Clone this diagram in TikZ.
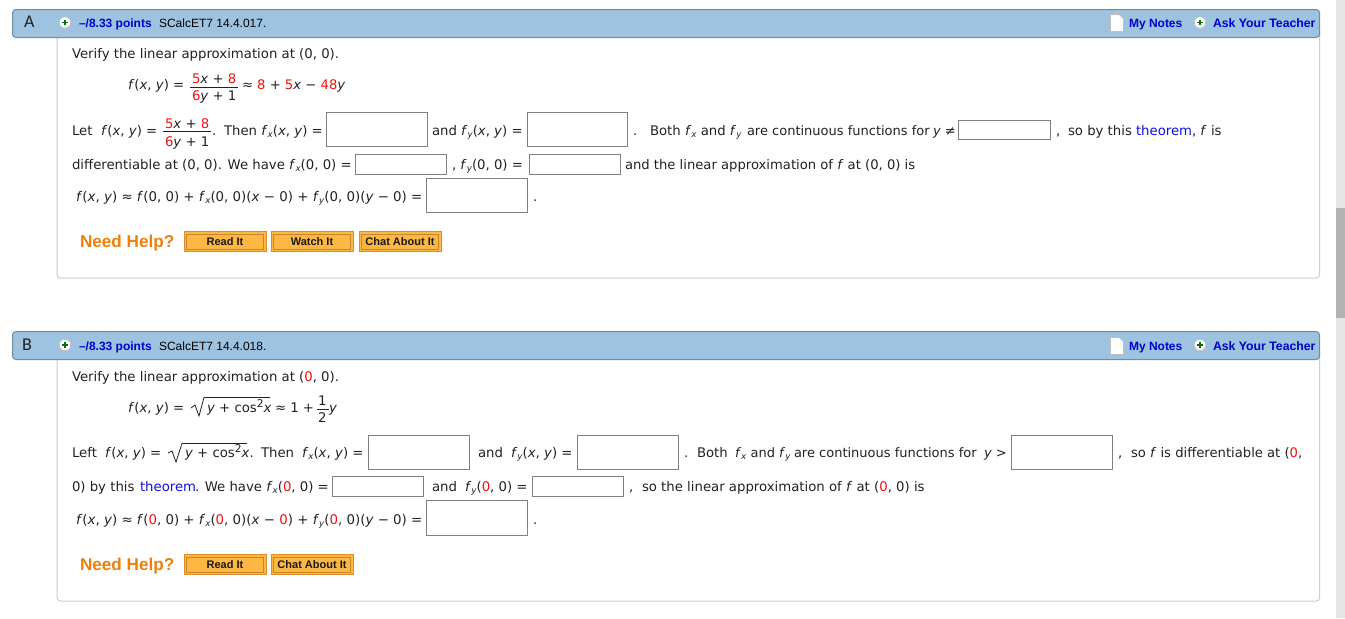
\documentclass[tikz,border=0pt]{standalone}
\usepackage{fontspec}
\setmainfont{DejaVu Sans}
\newfontfamily\hv{Liberation Sans}
\newfontfamily\cb{Carlito}
\definecolor{hdr}{HTML}{9DC3E0}
\definecolor{hdredge}{HTML}{6F8CA3}
\definecolor{lnk}{HTML}{0000CC}
\definecolor{thm}{HTML}{1111DD}
\definecolor{red0}{HTML}{F01010}
\definecolor{txt0}{HTML}{222222}
\definecolor{org}{HTML}{EE7F0A}
\definecolor{panel}{HTML}{CCCCCC}
\definecolor{boxe}{HTML}{808080}
\definecolor{btnf}{HTML}{FDB843}
\definecolor{btne}{HTML}{E08A2A}
\definecolor{btni}{HTML}{C8862A}
\newcommand\rd[1]{\textcolor{red0}{#1}}
\newcommand\ix{\textit{x}}
\newcommand\iy{\textit{y}}
\newcommand\subq[1]{\raisebox{-.3ex}{\fontsize{6.5pt}{8pt}\selectfont\textit{#1}}}
\newcommand\fX{\textit{f}\subq{x}}
\newcommand\fY{\textit{f}\subq{y}}
\newcommand\fxy{\textit{f}(\textit{x}, \textit{y})}
\newcommand\tx[5][]{\node[txt,#1] (#2) at (#3,#4) {#5};}
\newcommand\ansb[5]{\node[ansbox,minimum width=#4*.75pt,minimum height=#5*.75pt] (#1) at (#2+#4/2,#3+#5/2) {};}
\newcommand\btn[5]{\node[btnbox,minimum width=#4*.75pt] (#1) at (#2+#4/2,#3+10) {#5};
  \draw[btnin] ([shift={(3.2*.75pt,-3.2*.75pt)}]#1.north west) rectangle ([shift={(-3.2*.75pt,3.2*.75pt)}]#1.south east);}
\newcommand\plusic[3]{\node[plusbg] (#1) at (#2,#3) {};
  \draw[pluslin] ([xshift=-2.2pt]#1.center) -- ([xshift=2.2pt]#1.center);
  \draw[pluslin] ([yshift=-2.2pt]#1.center) -- ([yshift=2.2pt]#1.center);}
\tikzset{
  txt/.style={anchor=base west,inner sep=0pt,outer sep=0pt,text=txt0,font=\fontsize{9.95pt}{12pt}\selectfont},
  tight/.style={font=\fontsize{9.75pt}{12pt}\selectfont},
  semi/.style={font=\fontsize{9.87pt}{12pt}\selectfont},
  wide/.style={font=\fontsize{10.02pt}{12pt}\selectfont},
  hd/.style={font=\hv\fontsize{9pt}{11pt}\selectfont\bfseries,text=lnk},
  hda/.style={font=\hv\fontsize{9.2pt}{11pt}\selectfont\bfseries,text=lnk},
  hdk/.style={font=\hv\fontsize{9pt}{11pt}\selectfont,text=black},
  lbl/.style={font=\cb\fontsize{13.5pt}{15pt}\selectfont},
  ansbox/.style={draw=boxe,line width=.75pt,fill=white,inner sep=0pt},
  btnbox/.style={draw=btne,fill=btnf,line width=.75pt,inner sep=0pt,minimum height=15pt,text=black!90,font=\hv\fontsize{8.25pt}{10pt}\selectfont\bfseries},
  btnin/.style={draw=btni,line width=.4pt},
  plusbg/.style={circle,draw=black!25,fill=white,inner sep=0pt,minimum size=8.6pt,line width=.5pt},
  pluslin/.style={draw=green!45!black,line width=1pt},
  help/.style={font=\hv\fontsize{12.85pt}{16pt}\selectfont\bfseries,text=org},
  hbar/.style={draw=hdredge,fill=hdr,line width=.75pt,rounded corners=2.5pt},
  body/.style={draw=panel,line width=.75pt,rounded corners=2.5pt},
  rule/.style={draw=txt0,line width=.6pt},
  noteic/.style={draw=black!25,fill=white,line width=.5pt},
}
\begin{document}
\begin{tikzpicture}[x=.75pt,y=-.75pt]
\useasboundingbox (0,0) rectangle (1345,618);
\fill[white] (0,0) rectangle (1345,618);
% scrollbar
\fill[black!10] (1336,0) rectangle (1345,618);
\fill[black!30] (1336,208) rectangle (1345,318);
%%%%%% Panel A
\draw[body] (57,30) -- (57,278) -- (1319.5,278) -- (1319.5,30);
\draw[hbar] (12.5,9.5) rectangle (1319.5,37.5);
\node[txt,lbl] (la) at (24,27) {A};
\plusic{pa}{65}{22.5}
\tx[hd]{pta}{79}{27}{–/8.33 points}
\tx[hdk]{ida}{159}{27}{SCalcET7 14.4.017.}
\filldraw[noteic] (1110.5,14.5) -- (1119,14.5) -- (1123.5,19) -- (1123.5,31.5) -- (1110.5,31.5) -- cycle;
\tx[hd]{mna}{1129}{27}{My Notes}
\plusic{pb}{1200}{22.5}
\tx[hda]{aya}{1213}{27}{Ask Your Teacher}
\tx{a1}{72}{58}{Verify the linear approximation at (0, 0).}
\tx{a2}{128}{89}{\fxy{} =}
\tx{a2n}{192}{83}{\rd{5}\ix{} + \rd{8}}
\draw[rule] (190,87.5) -- (238,87.5);
\tx{a2d}{192}{100}{\rd{6}\iy{} + 1}
\tx[semi]{a2r}{242}{89}{≈ \rd{8} + \rd{5}\ix{} − \rd{48}\iy}
\tx{a3}{72}{135}{Let}
\tx{a3b}{101}{135}{\fxy{} =}
\tx{a3n}{165}{128}{\rd{5}\ix{} + \rd{8}}
\draw[rule] (163,131.5) -- (211,131.5);
\tx{a3d}{165}{146}{\rd{6}\iy{} + 1}
\tx{a3c}{212}{135}{.}
\tx{a3e}{224}{135}{Then \fX(\ix, \iy) =}
\ansb{ba1}{326}{112}{101}{34}
\tx{a3f}{432}{135}{and \fY(\ix, \iy) =}
\ansb{ba2}{527}{112}{100}{34}
\tx{a3g}{633}{135}{.}
\tx{a3h}{650}{135}{Both \fX{} and \fY}
\tx[tight]{a3i}{747}{135}{are continuous functions for}
\tx[tight]{a3n2}{933}{135}{\iy{} ≠}
\ansb{ba3}{958}{120}{92}{19}
\tx{a3j}{1056}{135}{,}
\tx{a3k}{1068}{135}{so by this}
\tx[text=thm]{a3l}{1136}{135}{theorem}
\tx{a3m}{1192}{135}{, \textit{f} is}
\tx{a4}{72}{169}{differentiable at (0, 0). We have \fX(0, 0) =}
\ansb{ba4}{355}{154}{91}{20}
\tx{a4b}{452}{169}{, \fY(0, 0) =}
\ansb{ba5}{529}{154}{91}{20}
\tx[semi]{a4c}{625}{169}{and the linear approximation of \textit{f} at (0, 0) is}
\tx[wide]{a5}{76}{201}{\fxy{} ≈ \textit{f}(0, 0) + \fX(0, 0)(\ix{} − 0) + \fY(0, 0)(\iy{} − 0) =}
\ansb{ba6}{426}{178}{101}{34}
\tx{a5b}{533}{201}{.}
\tx[help]{ha}{80}{247}{Need Help?}
\btn{ra}{184}{231.5}{82}{Read It}
\btn{wa}{271}{231.5}{82}{Watch It}
\btn{ca}{359}{231.5}{82}{Chat About It}
%%%%%% Panel B
\draw[body] (57,353) -- (57,601) -- (1319.5,601) -- (1319.5,353);
\draw[hbar] (12.5,331.5) rectangle (1319.5,359.5);
\node[txt,lbl] (lb) at (22,350) {B};
\plusic{pc}{65}{345}
\tx[hd]{ptb}{79}{350}{–/8.33 points}
\tx[hdk]{idb}{159}{350}{SCalcET7 14.4.018.}
\filldraw[noteic] (1110.5,337.5) -- (1119,337.5) -- (1123.5,342) -- (1123.5,354.5) -- (1110.5,354.5) -- cycle;
\tx[hd]{mnb}{1129}{350}{My Notes}
\plusic{pd}{1200}{345}
\tx[hda]{ayb}{1213}{350}{Ask Your Teacher}
\tx{b1}{72}{381}{Verify the linear approximation at (\rd{0}, 0).}
\tx{b2}{128}{412}{\fxy{} =}
\draw[rule] (191,408) -- (195,405) -- (199,416) -- (204,397.5) -- (270,397.5);
\tx{b2s}{207}{412}{\iy{} + cos\raisebox{.6ex}{\fontsize{8pt}{9pt}\selectfont 2}\ix}
\tx{b2r}{275}{412}{≈ 1 +}
\tx{b2n}{318}{405}{1}
\draw[rule] (317,409.5) -- (329,409.5);
\tx{b2d}{318}{422}{2}
\tx{b2y}{329}{412}{\iy}
\tx{b3}{72}{457}{Left}
\tx{b3b}{105}{457}{\fxy{} =}
\draw[rule] (168,453) -- (172,451) -- (176,462) -- (182,443.5) -- (247,443.5);
\tx{b3s}{185}{457}{\iy{} + cos\raisebox{.6ex}{\fontsize{8pt}{9pt}\selectfont 2}\ix.}
\tx{b3e}{261}{457}{Then}
\tx{b3f}{302}{457}{\fX(\ix, \iy) =}
\ansb{bb1}{368}{435}{101}{34}
\tx{b3g}{478}{457}{and}
\tx{b3h}{511}{457}{\fY(\ix, \iy) =}
\ansb{bb2}{577}{435}{101}{34}
\tx{b3i}{684}{457}{.}
\tx{b3j}{697}{457}{Both}
\tx[tight]{b3k}{735}{457}{\fX{} and \fY}
\tx[tight]{b3q}{794}{457}{are continuous functions for}
\tx[tight]{b3l}{984}{457}{\iy{} >}
\ansb{bb3}{1011}{435}{101}{34}
\tx{b3m}{1118}{457}{,}
\tx[semi]{b3n}{1131}{457}{so \textit{f} is differentiable at (\rd{0},}
\tx{b4}{72}{491}{0) by this}
\tx[text=thm]{b4b}{140}{491}{theorem}
\tx{b4c}{195}{491}{. We have \fX(\rd{0}, 0) =}
\ansb{bb4}{332}{476}{91}{20}
\tx{b4d}{432}{491}{and}
\tx{b4e}{465}{491}{\fY(\rd{0}, 0) =}
\ansb{bb5}{532}{476}{91}{20}
\tx{b4f}{629}{491}{,}
\tx{b4g}{642}{491}{so the linear approximation of \textit{f} at (\rd{0}, 0) is}
\tx[wide]{b5}{76}{524}{\fxy{} ≈ \textit{f}(\rd{0}, 0) + \fX(\rd{0}, 0)(\ix{} − \rd{0}) + \fY(\rd{0}, 0)(\iy{} − 0) =}
\ansb{bb6}{426}{500}{101}{35}
\tx{b5b}{533}{524}{.}
\tx[help]{hb}{80}{570}{Need Help?}
\btn{rb}{184}{554.5}{82}{Read It}
\btn{cbt}{271}{554.5}{82}{Chat About It}
\end{tikzpicture}
\end{document}
